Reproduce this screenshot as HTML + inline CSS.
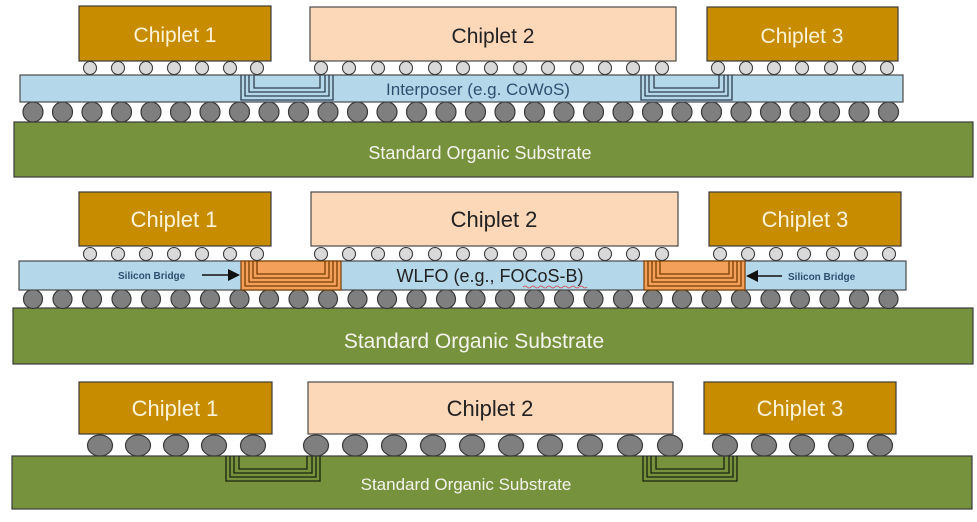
<!DOCTYPE html>
<html><head><meta charset="utf-8"><style>
html,body{margin:0;padding:0;background:#fff;}
svg{display:block;}
text{font-family:"Liberation Sans",sans-serif;}
</style></head><body>
<svg width="977" height="522" viewBox="0 0 977 522" xmlns="http://www.w3.org/2000/svg">
<rect width="977" height="522" fill="#fff"/>
<!-- ===== Panel 1 ===== -->
<rect x="14" y="122" width="959" height="55" fill="#77923c" stroke="#3b3b3b" stroke-width="1.2"/>
<text x="480" y="159" font-size="18" fill="#f4f4ee" text-anchor="middle">Standard Organic Substrate</text>
<g fill="#7f7f7f" stroke="#3a3a3a" stroke-width="1.2">
<circle cx="33" cy="112" r="10"/><circle cx="62.5" cy="112" r="10"/><circle cx="92" cy="112" r="10"/><circle cx="121.5" cy="112" r="10"/><circle cx="151" cy="112" r="10"/><circle cx="180.5" cy="112" r="10"/><circle cx="210" cy="112" r="10"/><circle cx="239.5" cy="112" r="10"/><circle cx="269" cy="112" r="10"/><circle cx="298.5" cy="112" r="10"/><circle cx="328" cy="112" r="10"/><circle cx="357.5" cy="112" r="10"/><circle cx="387" cy="112" r="10"/><circle cx="416.5" cy="112" r="10"/><circle cx="446" cy="112" r="10"/><circle cx="475.5" cy="112" r="10"/><circle cx="505" cy="112" r="10"/><circle cx="534.5" cy="112" r="10"/><circle cx="564" cy="112" r="10"/><circle cx="593.5" cy="112" r="10"/><circle cx="623" cy="112" r="10"/><circle cx="652.5" cy="112" r="10"/><circle cx="682" cy="112" r="10"/><circle cx="711.5" cy="112" r="10"/><circle cx="741" cy="112" r="10"/><circle cx="770.5" cy="112" r="10"/><circle cx="800" cy="112" r="10"/><circle cx="829.5" cy="112" r="10"/><circle cx="859" cy="112" r="10"/><circle cx="888.5" cy="112" r="10"/>
</g>
<rect x="20" y="75" width="883" height="27" fill="#b4d8ea" stroke="#4a4a4a" stroke-width="1.2"/>
<text x="478" y="95" font-size="17" fill="#2f4f6f" text-anchor="middle">Interposer (e.g. CoWoS)</text>
<g fill="none" stroke="#2f3f4f" stroke-width="1.3">
<path d="M241 75 V100 H333 V75"/><path d="M245 75 V96 H329 V75"/><path d="M249 75 V92 H325 V75"/><path d="M254 75 V88 H320 V75"/>
<path d="M641 75 V100 H732 V75"/><path d="M645 75 V96 H728 V75"/><path d="M649 75 V92 H724 V75"/><path d="M654 75 V88 H719 V75"/>
</g>
<g fill="#d9d9d9" stroke="#3a3a3a" stroke-width="1.1">
<circle cx="90" cy="68" r="6.5"/><circle cx="118" cy="68" r="6.5"/><circle cx="146" cy="68" r="6.5"/><circle cx="174" cy="68" r="6.5"/><circle cx="202" cy="68" r="6.5"/><circle cx="230" cy="68" r="6.5"/><circle cx="257" cy="68" r="6.5"/>
<circle cx="321" cy="68" r="6.5"/><circle cx="349" cy="68" r="6.5"/><circle cx="378" cy="68" r="6.5"/><circle cx="406" cy="68" r="6.5"/><circle cx="435" cy="68" r="6.5"/><circle cx="463" cy="68" r="6.5"/><circle cx="491" cy="68" r="6.5"/><circle cx="520" cy="68" r="6.5"/><circle cx="548" cy="68" r="6.5"/><circle cx="577" cy="68" r="6.5"/><circle cx="605" cy="68" r="6.5"/><circle cx="633" cy="68" r="6.5"/><circle cx="662" cy="68" r="6.5"/>
<circle cx="718" cy="68" r="6.5"/><circle cx="746" cy="68" r="6.5"/><circle cx="774" cy="68" r="6.5"/><circle cx="802" cy="68" r="6.5"/><circle cx="831" cy="68" r="6.5"/><circle cx="859" cy="68" r="6.5"/><circle cx="887" cy="68" r="6.5"/>
</g>
<rect x="79" y="6" width="192" height="55" fill="#c88c00" stroke="#3b3b3b" stroke-width="1.2"/>
<text x="175" y="42" font-size="21" fill="#fdf3d8" text-anchor="middle">Chiplet 1</text>
<rect x="310" y="7" width="366" height="54" fill="#fcd7b8" stroke="#4a4a4a" stroke-width="1.2"/>
<text x="493" y="43" font-size="21" fill="#222" text-anchor="middle">Chiplet 2</text>
<rect x="707" y="7" width="191" height="54" fill="#c88c00" stroke="#3b3b3b" stroke-width="1.2"/>
<text x="802" y="43" font-size="21" fill="#fdf3d8" text-anchor="middle">Chiplet 3</text>

<!-- ===== Panel 2 ===== -->
<rect x="13" y="308" width="960" height="56" fill="#77923c" stroke="#3b3b3b" stroke-width="1.2"/>
<text x="474" y="348" font-size="21" fill="#f4f4ee" text-anchor="middle">Standard Organic Substrate</text>
<g fill="#7f7f7f" stroke="#3a3a3a" stroke-width="1.2">
<circle cx="33" cy="299" r="9.5"/><circle cx="62.5" cy="299" r="9.5"/><circle cx="92" cy="299" r="9.5"/><circle cx="121.5" cy="299" r="9.5"/><circle cx="151" cy="299" r="9.5"/><circle cx="180.5" cy="299" r="9.5"/><circle cx="210" cy="299" r="9.5"/><circle cx="239.5" cy="299" r="9.5"/><circle cx="269" cy="299" r="9.5"/><circle cx="298.5" cy="299" r="9.5"/><circle cx="328" cy="299" r="9.5"/><circle cx="357.5" cy="299" r="9.5"/><circle cx="387" cy="299" r="9.5"/><circle cx="416.5" cy="299" r="9.5"/><circle cx="446" cy="299" r="9.5"/><circle cx="475.5" cy="299" r="9.5"/><circle cx="505" cy="299" r="9.5"/><circle cx="534.5" cy="299" r="9.5"/><circle cx="564" cy="299" r="9.5"/><circle cx="593.5" cy="299" r="9.5"/><circle cx="623" cy="299" r="9.5"/><circle cx="652.5" cy="299" r="9.5"/><circle cx="682" cy="299" r="9.5"/><circle cx="711.5" cy="299" r="9.5"/><circle cx="741" cy="299" r="9.5"/><circle cx="770.5" cy="299" r="9.5"/><circle cx="800" cy="299" r="9.5"/><circle cx="829.5" cy="299" r="9.5"/><circle cx="859" cy="299" r="9.5"/><circle cx="888.5" cy="299" r="9.5"/>
</g>
<rect x="19" y="261" width="887" height="29" fill="#b4d8ea" stroke="#4a4a4a" stroke-width="1.2"/>
<text x="490" y="282" font-size="18" fill="#222" text-anchor="middle">WLFO (e.g., FOCoS-B)</text>
<path d="M523 287 q2 -2 4 0 t4 0 t4 0 t4 0 t4 0 t4 0 t4 0 t4 0 t4 0 t4 0 t4 0 t4 0 t4 0 t4 0 t4 0 t4 0" fill="none" stroke="#d04040" stroke-width="0.8"/>
<text x="118" y="279" font-size="10" font-weight="bold" fill="#2f4f6f">Silicon Bridge</text>
<line x1="202" y1="275" x2="230" y2="275" stroke="#111" stroke-width="1.5"/><polygon points="240,275 228,269 228,281" fill="#111"/>
<text x="788" y="280" font-size="10" font-weight="bold" fill="#2f4f6f">Silicon Bridge</text>
<line x1="756" y1="276" x2="782" y2="276" stroke="#111" stroke-width="1.5"/><polygon points="746,276 758,270 758,282" fill="#111"/>
<rect x="241" y="261" width="100" height="29" fill="#f2a05a" stroke="#7a3d00" stroke-width="1.2"/>
<rect x="644" y="261" width="101" height="29" fill="#f2a05a" stroke="#7a3d00" stroke-width="1.2"/>
<g fill="none" stroke="#7a3d00" stroke-width="1.3">
<path d="M245 261 V286 H337 V261"/><path d="M249 261 V282 H333 V261"/><path d="M253 261 V278 H329 V261"/><path d="M257 261 V274 H325 V261"/>
<path d="M648 261 V286 H741 V261"/><path d="M652 261 V282 H737 V261"/><path d="M656 261 V278 H733 V261"/><path d="M660 261 V274 H729 V261"/>
</g>
<g fill="#d9d9d9" stroke="#3a3a3a" stroke-width="1.1">
<circle cx="90" cy="254" r="6.5"/><circle cx="118" cy="254" r="6.5"/><circle cx="146" cy="254" r="6.5"/><circle cx="174" cy="254" r="6.5"/><circle cx="202" cy="254" r="6.5"/><circle cx="230" cy="254" r="6.5"/><circle cx="257" cy="254" r="6.5"/>
<circle cx="321" cy="254" r="6.5"/><circle cx="349" cy="254" r="6.5"/><circle cx="378" cy="254" r="6.5"/><circle cx="406" cy="254" r="6.5"/><circle cx="435" cy="254" r="6.5"/><circle cx="463" cy="254" r="6.5"/><circle cx="491" cy="254" r="6.5"/><circle cx="520" cy="254" r="6.5"/><circle cx="548" cy="254" r="6.5"/><circle cx="577" cy="254" r="6.5"/><circle cx="605" cy="254" r="6.5"/><circle cx="633" cy="254" r="6.5"/><circle cx="662" cy="254" r="6.5"/>
<circle cx="720" cy="254" r="6.5"/><circle cx="748" cy="254" r="6.5"/><circle cx="776" cy="254" r="6.5"/><circle cx="804" cy="254" r="6.5"/><circle cx="833" cy="254" r="6.5"/><circle cx="861" cy="254" r="6.5"/><circle cx="889" cy="254" r="6.5"/>
</g>
<rect x="79" y="192" width="192" height="54" fill="#c88c00" stroke="#3b3b3b" stroke-width="1.2"/>
<text x="174" y="227" font-size="22" fill="#fdf3d8" text-anchor="middle">Chiplet 1</text>
<rect x="311" y="192" width="367" height="54" fill="#fcd7b8" stroke="#4a4a4a" stroke-width="1.2"/>
<text x="494" y="227" font-size="22" fill="#222" text-anchor="middle">Chiplet 2</text>
<rect x="709" y="192" width="192" height="54" fill="#c88c00" stroke="#3b3b3b" stroke-width="1.2"/>
<text x="805" y="227" font-size="22" fill="#fdf3d8" text-anchor="middle">Chiplet 3</text>

<!-- ===== Panel 3 ===== -->
<rect x="12" y="456" width="960" height="53" fill="#77923c" stroke="#3b3b3b" stroke-width="1.2"/>
<text x="466" y="490" font-size="17" fill="#f4f4ee" text-anchor="middle">Standard Organic Substrate</text>
<g fill="none" stroke="#1a2410" stroke-width="1.3">
<path d="M226 456 V481 H320 V456"/><path d="M230 456 V477 H316 V456"/><path d="M234 456 V473 H312 V456"/><path d="M239 456 V469 H307 V456"/>
<path d="M643 456 V481 H737 V456"/><path d="M647 456 V477 H733 V456"/><path d="M651 456 V473 H729 V456"/><path d="M656 456 V469 H724 V456"/>
</g>
<g fill="#7f7f7f" stroke="#3a3a3a" stroke-width="1.2">
<ellipse cx="100" cy="445.5" rx="12.5" ry="10.5"/><ellipse cx="138" cy="445.5" rx="12.5" ry="10.5"/><ellipse cx="176" cy="445.5" rx="12.5" ry="10.5"/><ellipse cx="214" cy="445.5" rx="12.5" ry="10.5"/><ellipse cx="253" cy="445.5" rx="12.5" ry="10.5"/>
<ellipse cx="316" cy="445.5" rx="12.5" ry="10.5"/><ellipse cx="355" cy="445.5" rx="12.5" ry="10.5"/><ellipse cx="394" cy="445.5" rx="12.5" ry="10.5"/><ellipse cx="433" cy="445.5" rx="12.5" ry="10.5"/><ellipse cx="472" cy="445.5" rx="12.5" ry="10.5"/><ellipse cx="511" cy="445.5" rx="12.5" ry="10.5"/><ellipse cx="550" cy="445.5" rx="12.5" ry="10.5"/><ellipse cx="590" cy="445.5" rx="12.5" ry="10.5"/><ellipse cx="630" cy="445.5" rx="12.5" ry="10.5"/><ellipse cx="670" cy="445.5" rx="12.5" ry="10.5"/>
<ellipse cx="725" cy="445.5" rx="12.5" ry="10.5"/><ellipse cx="764" cy="445.5" rx="12.5" ry="10.5"/><ellipse cx="802" cy="445.5" rx="12.5" ry="10.5"/><ellipse cx="841" cy="445.5" rx="12.5" ry="10.5"/><ellipse cx="880" cy="445.5" rx="12.5" ry="10.5"/>
</g>
<rect x="79" y="382" width="193" height="52" fill="#c88c00" stroke="#3b3b3b" stroke-width="1.2"/>
<text x="175" y="416" font-size="22" fill="#fdf3d8" text-anchor="middle">Chiplet 1</text>
<rect x="308" y="382" width="365" height="52" fill="#fcd7b8" stroke="#4a4a4a" stroke-width="1.2"/>
<text x="490" y="416" font-size="22" fill="#222" text-anchor="middle">Chiplet 2</text>
<rect x="704" y="382" width="192" height="52" fill="#c88c00" stroke="#3b3b3b" stroke-width="1.2"/>
<text x="800" y="416" font-size="22" fill="#fdf3d8" text-anchor="middle">Chiplet 3</text>
</svg>
</body></html>
